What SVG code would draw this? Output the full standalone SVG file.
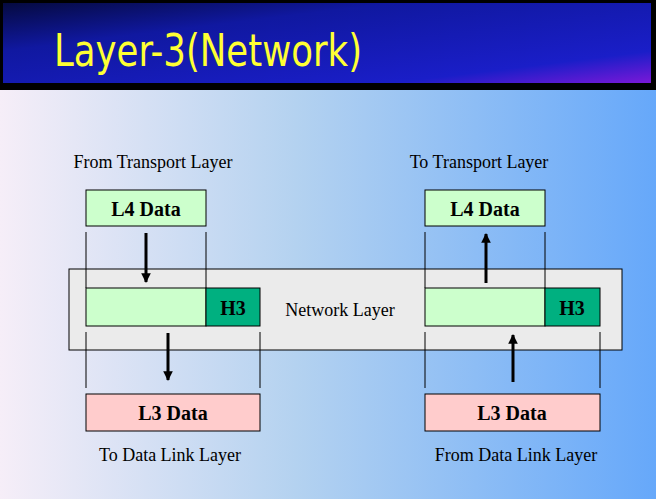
<svg xmlns="http://www.w3.org/2000/svg" width="656" height="499" viewBox="0 0 656 499">
<defs>
<linearGradient id="bg" x1="0" y1="0" x2="1" y2="0"><stop offset="0" stop-color="#f6eef8"/><stop offset="0.45" stop-color="#b4d2f0"/><stop offset="1" stop-color="#66a8fa"/></linearGradient>
<linearGradient id="hd" x1="0" y1="0" x2="1" y2="1"><stop offset="0" stop-color="#050a40"/><stop offset="0.3" stop-color="#1018a0"/><stop offset="0.8" stop-color="#1a1ec8"/><stop offset="1" stop-color="#7a18d8"/></linearGradient>
<marker id="ah" viewBox="0 0 10 10" refX="9" refY="5" markerWidth="3.2" markerHeight="3.5" orient="auto"><path d="M0,0L10,5L0,10z" fill="#000"/></marker>
<style>
.t{font-family:"Liberation Serif",serif;font-size:18px;fill:#000}
.b{font-family:"Liberation Serif",serif;font-size:20px;font-weight:bold;fill:#000}
.g{fill:#ccffcc;stroke:#000;stroke-width:1}
.h{fill:#00b080;stroke:#000;stroke-width:1}
.p{fill:#ffcccc;stroke:#000;stroke-width:1}
.ln{stroke:#000;stroke-width:1}
.ar{stroke:#000;stroke-width:3;marker-end:url(#ah)}
</style>
</defs>
<rect width="656" height="499" fill="url(#bg)"/>
<rect x="0" y="0" width="656" height="90" fill="#000"/>
<rect x="3" y="3" width="648" height="80" fill="url(#hd)"/>
<text x="54" y="66" font-family="DejaVu Sans Condensed,DejaVu Sans,sans-serif" font-size="44" fill="#ffff33" textLength="308" lengthAdjust="spacingAndGlyphs">Layer-3(Network)</text>
<rect x="69" y="269" width="553" height="81" fill="#ebebeb" stroke="#000" stroke-width="1"/>
<g id="left">
<text class="t" x="153" y="168" text-anchor="middle">From Transport Layer</text>
<rect class="g" x="86" y="190" width="120" height="36"/><text class="b" x="146" y="216" text-anchor="middle">L4 Data</text>
<rect class="g" x="86" y="288" width="120" height="38"/><rect class="h" x="206" y="288" width="54" height="38"/><text class="b" x="233" y="315" text-anchor="middle">H3</text>
<rect class="p" x="86" y="394" width="174" height="37"/><text class="b" x="173" y="420" text-anchor="middle">L3 Data</text>
<text class="t" x="170" y="461" text-anchor="middle">To Data Link Layer</text>
</g>
<text class="t" x="340" y="316" text-anchor="middle">Network Layer</text>
<g id="right">
<text class="t" x="479" y="168" text-anchor="middle">To Transport Layer</text>
<rect class="g" x="425" y="190" width="120" height="36"/><text class="b" x="485" y="216" text-anchor="middle">L4 Data</text>
<rect class="g" x="425" y="288" width="120" height="38"/><rect class="h" x="545" y="288" width="55" height="38"/><text class="b" x="572" y="315" text-anchor="middle">H3</text>
<rect class="p" x="425" y="394" width="175" height="37"/><text class="b" x="512" y="420" text-anchor="middle">L3 Data</text>
<text class="t" x="516" y="461" text-anchor="middle">From Data Link Layer</text>
</g>
<g id="connectors">
<path class="ln" d="M86,232V288M206,232V288M86,332V388M260,332V388M425,232V288M545,232V288M425,332V388M600,332V388"/>
<path class="ar" d="M146,233V282"/>
<path class="ar" d="M168,333V380"/>
<path class="ar" d="M486,283V234"/>
<path class="ar" d="M513,382V335"/>
</g>
</svg>
